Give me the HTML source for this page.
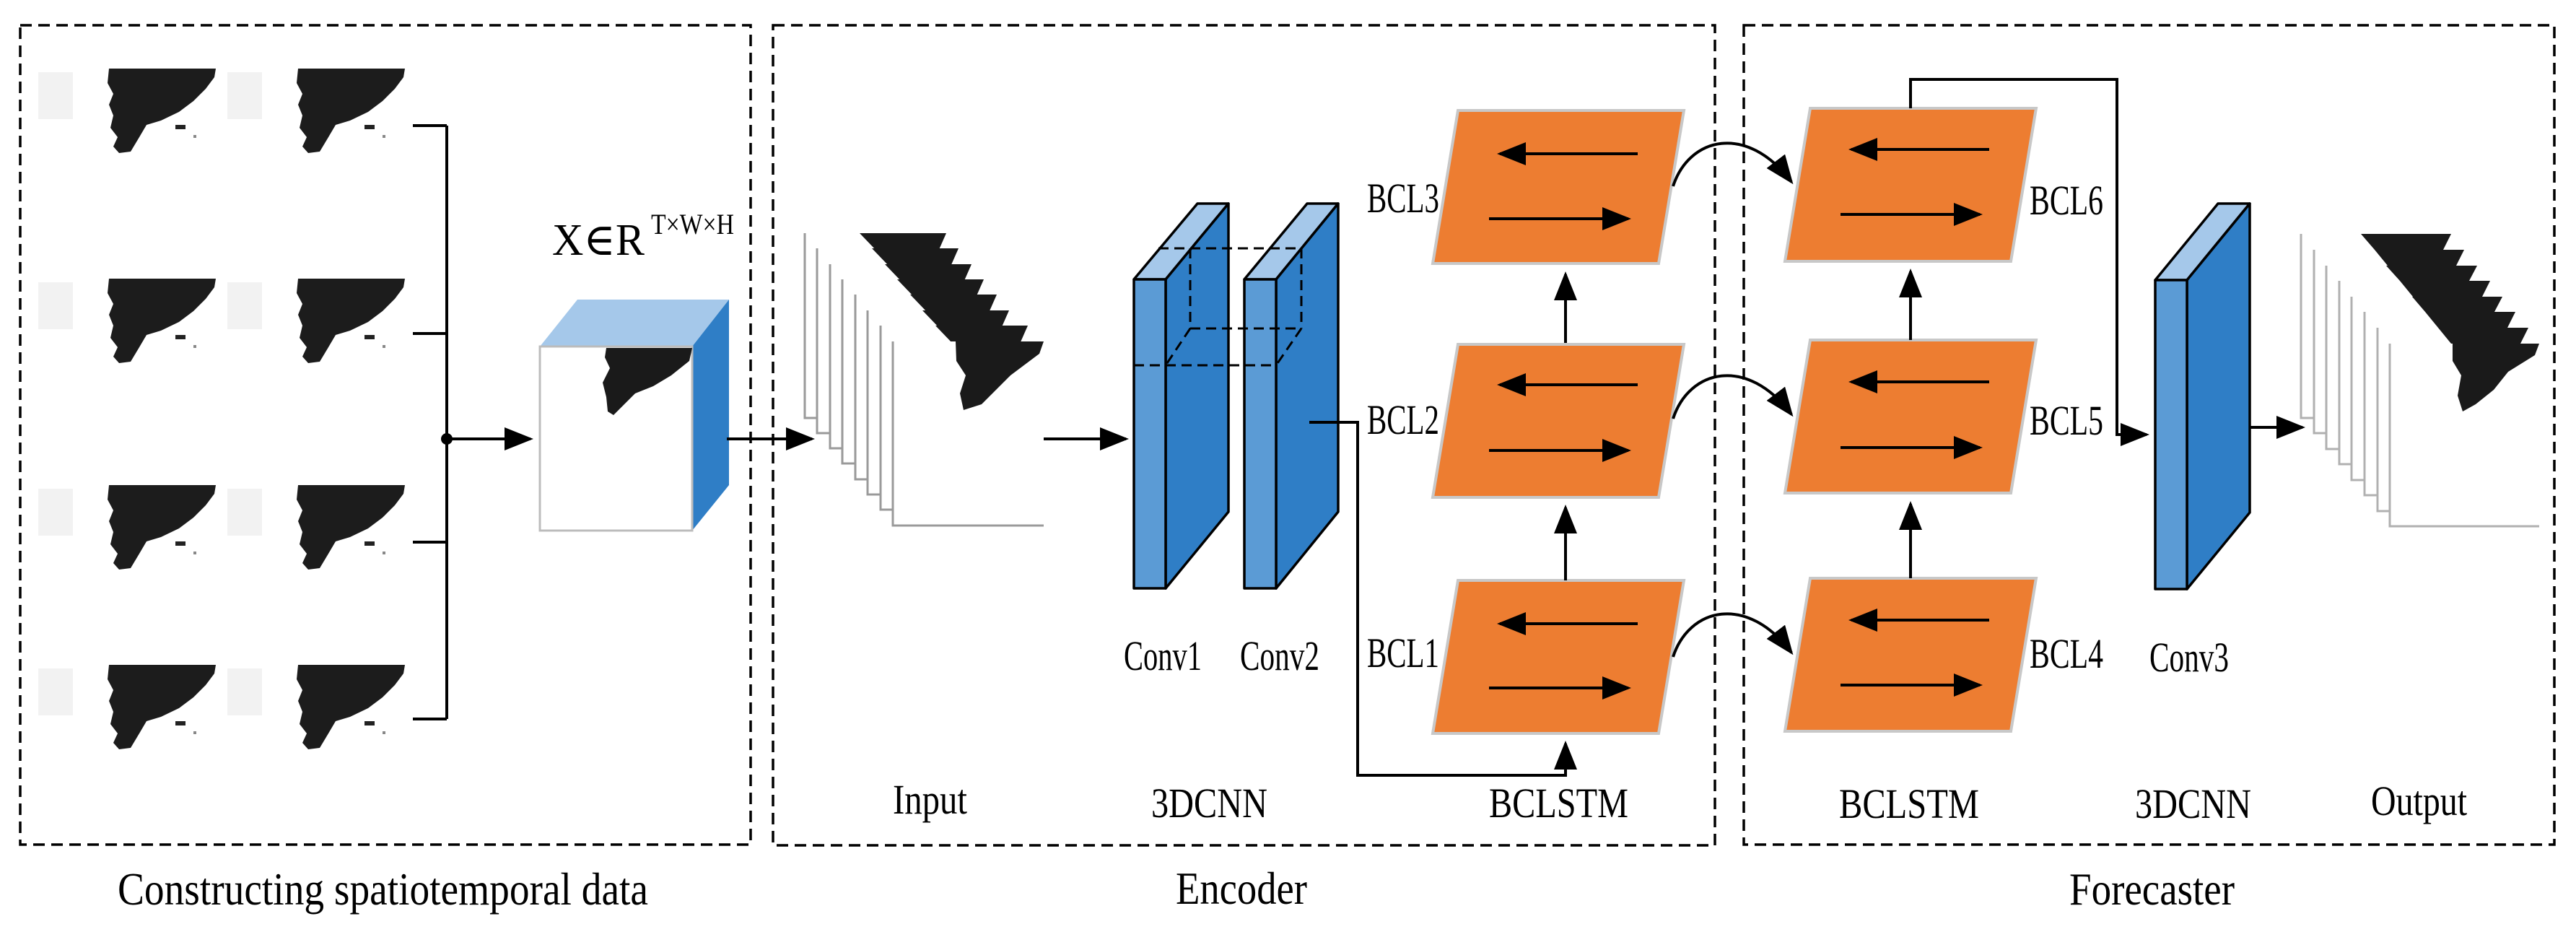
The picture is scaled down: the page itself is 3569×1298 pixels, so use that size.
<!DOCTYPE html>
<html><head><meta charset="utf-8"><style>html,body{margin:0;padding:0;background:#fff}svg{display:block}svg text{font-family:"Liberation Serif","DejaVu Serif",serif}</style></head>
<body>
<svg width="3569" height="1298" viewBox="0 0 3569 1298" xmlns="http://www.w3.org/2000/svg" style="font-family:'Liberation Serif',serif">
<defs>
  <marker id="ah" markerWidth="10" markerHeight="8" refX="9" refY="4" orient="auto" markerUnits="strokeWidth">
    <path d="M0,0 L10,4 L0,8 z" fill="#000"/>
  </marker>
  <g id="thumb">
    <rect x="0" y="5" width="48" height="65" fill="#ececec" opacity="0.7"/>
    <path d="M98,0 L246,0 L244,12 L232,28 L215,45 L195,60 L170,72 L150,78 L140,95 L128,115 L112,117 L104,108 L110,95 L100,82 L104,65 L98,50 L104,35 L96,20 Z" fill="#1c1c1c"/>
    <rect x="190" y="78" width="14" height="6" fill="#222"/>
    <rect x="215" y="92" width="4" height="4" fill="#888"/>
  </g>
  <g id="pair">
    <use href="#thumb" x="0" y="0"/>
    <use href="#thumb" x="262" y="0"/>
  </g>
  <g id="para">
    <path d="M35,0 L348,0 L313,212 L0,212 Z" fill="#ED7D31" stroke="#c8c8c8" stroke-width="4"/>
  </g>
</defs>

<g fill="none" stroke="#000" stroke-width="3.5" stroke-dasharray="16,9">
  <rect x="28" y="35" width="1012" height="1135"/>
  <rect x="1071" y="35" width="1305" height="1136"/>
  <rect x="2416" y="35" width="1123" height="1135"/>
</g>

<use href="#pair" x="53" y="95"/>
<use href="#pair" x="53" y="386"/>
<use href="#pair" x="53" y="672"/>
<use href="#pair" x="53" y="921"/>

<g stroke="#000" stroke-width="4" fill="none">
  <line x1="572" y1="174" x2="619" y2="174"/>
  <line x1="572" y1="462" x2="619" y2="462"/>
  <line x1="572" y1="751" x2="619" y2="751"/>
  <line x1="572" y1="996" x2="619" y2="996"/>
  <line x1="619" y1="174" x2="619" y2="996"/>
  <line x1="619" y1="608" x2="735" y2="608" marker-end="url(#ah)"/>
</g>
<circle cx="619" cy="608" r="8" fill="#000"/>

<path d="M748,480 L800,415 L1010,415 L959,480 Z" fill="#A5C8EA"/>
<path d="M959,480 L1010,415 L1010,672 L959,735 Z" fill="#2F7EC6"/>
<rect x="748" y="480" width="211" height="255" fill="#fff" stroke="#bcbcbc" stroke-width="3"/>
<path d="M840,482 L959,482 L955,500 L930,520 L905,535 L880,545 L860,565 L850,575 L842,570 L840,550 L835,530 L845,510 L838,495 Z" fill="#1a1a1a"/>
<text x="765" y="353" font-size="62" textLength="128" lengthAdjust="spacingAndGlyphs">X∈R</text>
<text x="902" y="324" font-size="40" textLength="115" lengthAdjust="spacingAndGlyphs">T×W×H</text>

<line x1="1007" y1="608" x2="1125" y2="608" stroke="#000" stroke-width="4" marker-end="url(#ah)"/>

<!-- input stack -->
<g>
  <g><rect x="1115" y="323" width="331" height="256" fill="#fff"/><path d="M1115,323 L1115,579 L1446,579" fill="none" stroke="#9a9a9a" stroke-width="3"/><path d="M1191,323 L1311,323 L1300,348 L1215,348 Z" fill="#1a1a1a"/></g>
  <g><rect x="1132" y="344" width="314" height="256" fill="#fff"/><path d="M1132,344 L1132,600 L1446,600" fill="none" stroke="#9a9a9a" stroke-width="3"/><path d="M1208,344 L1328,344 L1317,369 L1232,369 Z" fill="#1a1a1a"/></g>
  <g><rect x="1150" y="366" width="296" height="255" fill="#fff"/><path d="M1150,366 L1150,621 L1446,621" fill="none" stroke="#9a9a9a" stroke-width="3"/><path d="M1226,366 L1346,366 L1335,391 L1250,391 Z" fill="#1a1a1a"/></g>
  <g><rect x="1167" y="387" width="279" height="255" fill="#fff"/><path d="M1167,387 L1167,642 L1446,642" fill="none" stroke="#9a9a9a" stroke-width="3"/><path d="M1243,387 L1363,387 L1352,412 L1267,412 Z" fill="#1a1a1a"/></g>
  <g><rect x="1185" y="408" width="261" height="256" fill="#fff"/><path d="M1185,408 L1185,664 L1446,664" fill="none" stroke="#9a9a9a" stroke-width="3"/><path d="M1261,408 L1381,408 L1370,433 L1285,433 Z" fill="#1a1a1a"/></g>
  <g><rect x="1202" y="430" width="244" height="255" fill="#fff"/><path d="M1202,430 L1202,685 L1446,685" fill="none" stroke="#9a9a9a" stroke-width="3"/><path d="M1278,430 L1398,430 L1387,455 L1302,455 Z" fill="#1a1a1a"/></g>
  <g><rect x="1220" y="451" width="226" height="255" fill="#fff"/><path d="M1220,451 L1220,706 L1446,706" fill="none" stroke="#9a9a9a" stroke-width="3"/><path d="M1296,451 L1424,451 L1413,476 L1320,476 Z" fill="#1a1a1a"/></g>
  <g><rect x="1237" y="473" width="209" height="255" fill="#fff"/><path d="M1237,473 L1237,728 L1446,728" fill="none" stroke="#9a9a9a" stroke-width="3"/><path d="M1324,473 L1446,473 L1440,490 L1400,520 L1380,540 L1360,560 L1335,568 L1330,545 L1338,520 L1325,500 Z" fill="#1a1a1a"/></g>
</g>

<line x1="1446" y1="608" x2="1560" y2="608" stroke="#000" stroke-width="4" marker-end="url(#ah)"/>

<g stroke="#000" stroke-width="3.5" stroke-linejoin="round">
  <path d="M1571,387 L1659,282 L1702,282 L1615,387 Z" fill="#A5C8EA"/>
  <path d="M1615,387 L1702,282 L1702,709 L1615,815 Z" fill="#2F7EC6"/>
  <rect x="1571" y="387" width="44" height="428" fill="#5B9BD5"/>
  <path d="M1724,387 L1811,282 L1854,282 L1768,387 Z" fill="#A5C8EA"/>
  <path d="M1768,387 L1854,282 L1854,709 L1768,815 Z" fill="#2F7EC6"/>
  <rect x="1724" y="387" width="44" height="428" fill="#5B9BD5"/>
</g>
<g stroke="#000" stroke-width="3" stroke-dasharray="14,8" fill="none">
  <line x1="1605" y1="344" x2="1803" y2="344"/>
  <line x1="1649" y1="455" x2="1803" y2="455"/>
  <line x1="1571" y1="506" x2="1768" y2="506"/>
  <line x1="1649" y1="344" x2="1649" y2="455"/>
  <line x1="1803" y1="344" x2="1803" y2="455"/>
  <line x1="1649" y1="455" x2="1615" y2="506"/>
  <line x1="1803" y1="455" x2="1768" y2="506"/>
</g>

<path d="M1814,585 L1881,585 L1881,1074 L2169,1074 L2169,1030" fill="none" stroke="#000" stroke-width="4" marker-end="url(#ah)"/>

<use href="#para" x="1985" y="153"/>
<use href="#para" x="1985" y="477"/>
<use href="#para" x="1985" y="804"/>
<use href="#para" x="2473" y="150"/>
<use href="#para" x="2473" y="471"/>
<use href="#para" x="2473" y="801"/>

<g stroke="#000" stroke-width="4" fill="none">
  <line x1="2269" y1="213" x2="2078" y2="213" marker-end="url(#ah)"/>
  <line x1="2063" y1="303" x2="2256" y2="303" marker-end="url(#ah)"/>
  <line x1="2269" y1="533" x2="2078" y2="533" marker-end="url(#ah)"/>
  <line x1="2063" y1="624" x2="2256" y2="624" marker-end="url(#ah)"/>
  <line x1="2269" y1="864" x2="2078" y2="864" marker-end="url(#ah)"/>
  <line x1="2063" y1="953" x2="2256" y2="953" marker-end="url(#ah)"/>
  <line x1="2756" y1="207" x2="2565" y2="207" marker-end="url(#ah)"/>
  <line x1="2550" y1="297" x2="2743" y2="297" marker-end="url(#ah)"/>
  <line x1="2756" y1="529" x2="2565" y2="529" marker-end="url(#ah)"/>
  <line x1="2550" y1="620" x2="2743" y2="620" marker-end="url(#ah)"/>
  <line x1="2756" y1="859" x2="2565" y2="859" marker-end="url(#ah)"/>
  <line x1="2550" y1="949" x2="2743" y2="949" marker-end="url(#ah)"/>
  <line x1="2169" y1="475" x2="2169" y2="380" marker-end="url(#ah)"/>
  <line x1="2169" y1="804" x2="2169" y2="703" marker-end="url(#ah)"/>
  <line x1="2647" y1="471" x2="2647" y2="376" marker-end="url(#ah)"/>
  <line x1="2647" y1="801" x2="2647" y2="698" marker-end="url(#ah)"/>
  <path d="M2318,258 C2340,190 2420,170 2482,252" marker-end="url(#ah)"/>
  <path d="M2318,580 C2340,512 2420,492 2482,574" marker-end="url(#ah)"/>
  <path d="M2318,910 C2340,842 2420,822 2482,904" marker-end="url(#ah)"/>
  <path d="M2647,150 L2647,110 L2933,110 L2933,602 L2974,602" marker-end="url(#ah)"/>
  <line x1="3078" y1="592" x2="3190" y2="592" marker-end="url(#ah)"/>
</g>

<g stroke="#000" stroke-width="3.5" stroke-linejoin="round">
  <path d="M2986,388 L3073,282 L3117,282 L3030,388 Z" fill="#A5C8EA"/>
  <path d="M3030,388 L3117,282 L3117,710 L3030,816 Z" fill="#2F7EC6"/>
  <rect x="2986" y="388" width="44" height="428" fill="#5B9BD5"/>
</g>

<!-- output stack -->
<g>
  <g><rect x="3188" y="324" width="330" height="255" fill="#fff"/><path d="M3188,324 L3188,579 L3518,579" fill="none" stroke="#b0b0b0" stroke-width="3"/><path d="M3271,324 L3396,324 L3385,346 L3290,346 Z" fill="#1a1a1a"/></g>
  <g><rect x="3206" y="346" width="312" height="254" fill="#fff"/><path d="M3206,346 L3206,600 L3518,600" fill="none" stroke="#b0b0b0" stroke-width="3"/><path d="M3290,346 L3414,346 L3403,368 L3308,368 Z" fill="#1a1a1a"/></g>
  <g><rect x="3223" y="368" width="295" height="254" fill="#fff"/><path d="M3223,368 L3223,622 L3518,622" fill="none" stroke="#b0b0b0" stroke-width="3"/><path d="M3306,368 L3432,368 L3421,389 L3325,389 Z" fill="#1a1a1a"/></g>
  <g><rect x="3241" y="389" width="277" height="254" fill="#fff"/><path d="M3241,389 L3241,643 L3518,643" fill="none" stroke="#b0b0b0" stroke-width="3"/><path d="M3325,389 L3450,389 L3439,411 L3343,411 Z" fill="#1a1a1a"/></g>
  <g><rect x="3258" y="411" width="260" height="254" fill="#fff"/><path d="M3258,411 L3258,665 L3518,665" fill="none" stroke="#b0b0b0" stroke-width="3"/><path d="M3342,411 L3467,411 L3456,432 L3360,432 Z" fill="#1a1a1a"/></g>
  <g><rect x="3276" y="432" width="242" height="254" fill="#fff"/><path d="M3276,432 L3276,686 L3518,686" fill="none" stroke="#b0b0b0" stroke-width="3"/><path d="M3360,432 L3485,432 L3474,454 L3378,454 Z" fill="#1a1a1a"/></g>
  <g><rect x="3294" y="454" width="224" height="254" fill="#fff"/><path d="M3294,454 L3294,708 L3518,708" fill="none" stroke="#b0b0b0" stroke-width="3"/><path d="M3378,454 L3503,454 L3492,476 L3396,476 Z" fill="#1a1a1a"/></g>
  <g><rect x="3311" y="476" width="207" height="253" fill="#fff"/><path d="M3311,476 L3311,729 L3518,729" fill="none" stroke="#b0b0b0" stroke-width="3"/><path d="M3398,476 L3518,476 L3512,492 L3475,515 L3455,540 L3430,560 L3412,570 L3405,548 L3410,520 L3398,500 Z" fill="#1a1a1a"/></g>
</g>

<g font-size="58" fill="#000">
  <text x="1894" y="294" textLength="100" lengthAdjust="spacingAndGlyphs">BCL3</text>
  <text x="1894" y="601" textLength="100" lengthAdjust="spacingAndGlyphs">BCL2</text>
  <text x="1894" y="924" textLength="100" lengthAdjust="spacingAndGlyphs">BCL1</text>
  <text x="2812" y="297" textLength="102" lengthAdjust="spacingAndGlyphs">BCL6</text>
  <text x="2812" y="602" textLength="102" lengthAdjust="spacingAndGlyphs">BCL5</text>
  <text x="2812" y="925" textLength="102" lengthAdjust="spacingAndGlyphs">BCL4</text>
  <text x="1557" y="928" textLength="108" lengthAdjust="spacingAndGlyphs">Conv1</text>
  <text x="1718" y="928" textLength="110" lengthAdjust="spacingAndGlyphs">Conv2</text>
  <text x="2978" y="930" textLength="110" lengthAdjust="spacingAndGlyphs">Conv3</text>
  <text x="1237" y="1127" textLength="103" lengthAdjust="spacingAndGlyphs">Input</text>
  <text x="1595" y="1132" textLength="161" lengthAdjust="spacingAndGlyphs">3DCNN</text>
  <text x="2063" y="1132" textLength="193" lengthAdjust="spacingAndGlyphs">BCLSTM</text>
  <text x="2548" y="1133" textLength="194" lengthAdjust="spacingAndGlyphs">BCLSTM</text>
  <text x="2958" y="1133" textLength="161" lengthAdjust="spacingAndGlyphs">3DCNN</text>
  <text x="3285" y="1129" textLength="133" lengthAdjust="spacingAndGlyphs">Output</text>
</g>
<g font-size="64" fill="#000">
  <text x="163" y="1253" textLength="735" lengthAdjust="spacingAndGlyphs">Constructing spatiotemporal data</text>
  <text x="1629" y="1252" textLength="182" lengthAdjust="spacingAndGlyphs">Encoder</text>
  <text x="2867" y="1253" textLength="229" lengthAdjust="spacingAndGlyphs">Forecaster</text>
</g>
</svg>
</body></html>
